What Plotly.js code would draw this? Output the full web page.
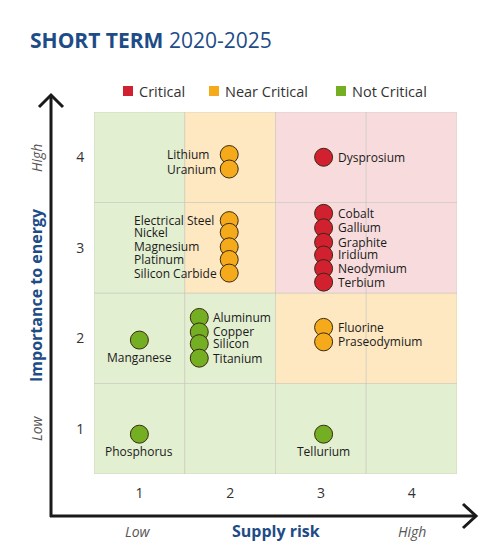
<!DOCTYPE html>
<html>
<head>
<meta charset="utf-8">
<script src="https://cdn.plot.ly/plotly-3.0.1.min.js"></script>
<style>html,body{margin:0;padding:0;background:#fff;}#chart{width:499px;height:550px;}</style>
</head>
<body>
<div id="chart"></div>
<script>
// ---- data ----
const names = ["Dysprosium","Cobalt","Gallium","Graphite","Iridium","Neodymium","Terbium",
  "Lithium","Uranium","Electrical Steel","Nickel","Magnesium","Platinum","Silicon Carbide",
  "Fluorine","Praseodymium",
  "Aluminum","Copper","Silicon","Titanium","Manganese","Phosphorus","Tellurium"];
const supplyRisk = [3.03,3.03,3.03,3.03,3.03,3.03,3.03,
  1.99,1.99,1.99,1.99,1.99,1.99,1.99,
  3.03,3.03,
  1.66,1.66,1.66,1.66,1.0,1.0,3.03];
const importance = [4.0,3.38,3.22,3.06,2.92,2.77,2.62,
  4.03,3.87,3.30,3.17,3.01,2.87,2.72,
  2.12,1.96,
  2.23,2.07,1.94,1.78,1.98,0.94,0.94];
const status = ["Critical","Critical","Critical","Critical","Critical","Critical","Critical",
  "Near Critical","Near Critical","Near Critical","Near Critical","Near Critical","Near Critical","Near Critical",
  "Near Critical","Near Critical",
  "Not Critical","Not Critical","Not Critical","Not Critical","Not Critical","Not Critical","Not Critical"];
const categories = ["Critical","Near Critical","Not Critical"];
const tickLabels = ["1","2","3","4"];
// zone of each cell: rows = importance 1..4, cols = supply risk 1..4
const zoneGrid = [
  ["Not Critical","Not Critical","Not Critical","Not Critical"],
  ["Not Critical","Not Critical","Near Critical","Near Critical"],
  ["Not Critical","Near Critical","Critical","Critical"],
  ["Not Critical","Near Critical","Critical","Critical"]
];

// ---- styles ----
const labelSide = ["right","right","right","right","right","right","right",
  "left","left","left","left","left","left","left",
  "right","right",
  "right","right","right","right","bottom","bottom","bottom"];
const markerColor = {"Critical":"#d1202f","Near Critical":"#f5aa1c","Not Critical":"#74ae22"};
const zoneColor = {"Critical":"#f8dcdd","Near Critical":"#fde8c2","Not Critical":"#e3efd1"};
const legendStartPx = [123, 209, 336];
const FONT = "Open Sans, sans-serif";
const BLUE = "#1d4c86";
const LABEL_SIZE = 12;

const traces = [];
categories.forEach(cat => {
  const idx = status.map((s,i)=> s===cat ? i : -1).filter(i=>i>=0);
  traces.push({
    type:"scatter", mode:"markers", showlegend:false, hoverinfo:"skip",
    x: idx.map(i=>supplyRisk[i]), y: idx.map(i=>importance[i]),
    marker:{size:18,color:markerColor[cat],line:{color:"#3a2a12",width:1}},
    cliponaxis:false
  });
});

// measure label widths for left-aligned blocks (block = same cell & status)
const ctx = document.createElement("canvas").getContext("2d");
ctx.font = LABEL_SIZE + "px 'Open Sans'";
const groupKey = i => Math.round(supplyRisk[i])+"|"+Math.round(importance[i])+"|"+status[i];
const groupMax = {};
names.forEach((n,i)=>{
  if (labelSide[i]!=="left") return;
  const k = groupKey(i);
  groupMax[k] = Math.max(groupMax[k]||0, ctx.measureText(n).width);
});

const annotations = [];
names.forEach((n,i)=>{
  const a = {xref:"x",yref:"y",x:supplyRisk[i],y:importance[i],text:n,showarrow:false,
    font:{family:FONT,size:LABEL_SIZE,color:"#1a1a1a"},yanchor:"middle"};
  if (labelSide[i]==="right") { a.xanchor="left"; a.xshift=12; }
  else if (labelSide[i]==="left") { a.xanchor="left"; a.xshift=-(groupMax[groupKey(i)]+15); }
  else { a.xanchor="center"; a.yshift=-17; }
  annotations.push(a);
});

const shapes = [];
zoneGrid.forEach((row,r)=>{
  row.forEach((z,c)=>{
    shapes.push({type:"rect",xref:"x",yref:"y",layer:"below",
      x0:c+0.5,x1:c+1.5,y0:r+0.5,y1:r+1.5,
      fillcolor:zoneColor[z],line:{color:"rgba(190,190,180,0.45)",width:1}});
  });
});
// axis arrows (paper coords)
const L=94, T=112, W=363, H=362;
const px = v => (v-L)/W;
const py = v => (T+H-v)/H;
const arrowLine = {color:"#1a1a1a",width:3};
shapes.push({type:"line",xref:"paper",yref:"paper",x0:px(51),x1:px(51),y0:py(517),y1:py(95),line:arrowLine});
shapes.push({type:"line",xref:"paper",yref:"paper",x0:px(50),x1:px(475),y0:py(516),y1:py(516),line:arrowLine});
shapes.push({type:"path",xref:"paper",yref:"paper",
  path:`M${px(39)},${py(107)} L${px(51)},${py(95)} L${px(63)},${py(107)}`,line:arrowLine});
shapes.push({type:"path",xref:"paper",yref:"paper",
  path:`M${px(463)},${py(504)} L${px(476)},${py(516)} L${px(463)},${py(528)}`,line:arrowLine});

// legend (squares + text)
categories.forEach((cat,k)=>{
  const x0 = legendStartPx[k];
  shapes.push({type:"rect",xref:"paper",yref:"paper",x0:px(x0),x1:px(x0+10),y0:py(96),y1:py(86),
    fillcolor:markerColor[cat],line:{width:0}});
  annotations.push({xref:"paper",yref:"paper",x:px(x0+14),y:py(91),xanchor:"left",yanchor:"middle",
    text:cat,showarrow:false,font:{family:FONT,size:14.5,color:"#333"}});
});

const ann = (x,y,text,size,color,angle)=>({xref:"paper",yref:"paper",x:px(x),y:py(y),xanchor:"center",yanchor:"middle",
  text:text,showarrow:false,textangle:angle||0,font:{family:FONT,size:size,color:color}});
annotations.push(ann(276,531,"<b>Supply risk</b>",16,BLUE));
annotations.push(ann(138,531,"<i>Low</i>",14,"#555"));
annotations.push(ann(412,531,"<i>High</i>",14,"#555"));
annotations.push(ann(36,295,"<b>Importance to energy</b>",16,BLUE,-90));
annotations.push(ann(36,428,"<i>Low</i>",14,"#555",-90));
annotations.push(ann(36,158,"<i>High</i>",14,"#555",-90));

const layout = {
  width:499, height:550,
  margin:{l:L,r:499-L-W,t:T,b:550-T-H},
  paper_bgcolor:"#fff", plot_bgcolor:"#fff",
  font:{family:FONT,color:"#333"},
  showlegend:false,
  title:{text:"<b>SHORT TERM</b> 2020-2025",xref:"container",yref:"container",x:30/499,xanchor:"left",
    y:1-41/550,yanchor:"middle",font:{family:FONT,size:21,color:BLUE}},
  xaxis:{range:[0.5,4.5],tickvals:[1,2,3,4],ticktext:tickLabels,showgrid:false,zeroline:false,showline:false,
    ticks:"outside",ticklen:6,tickcolor:"rgba(0,0,0,0)",tickfont:{family:FONT,size:14,color:"#333"},fixedrange:true},
  yaxis:{range:[0.5,4.5],tickvals:[1,2,3,4],ticktext:tickLabels,showgrid:false,zeroline:false,showline:false,
    ticks:"outside",ticklen:6,tickcolor:"rgba(0,0,0,0)",tickfont:{family:FONT,size:14,color:"#333"},fixedrange:true},
  shapes:shapes, annotations:annotations, hovermode:false
};
Plotly.newPlot("chart",traces,layout,{displayModeBar:false,staticPlot:true});
</script>
</body>
</html>
